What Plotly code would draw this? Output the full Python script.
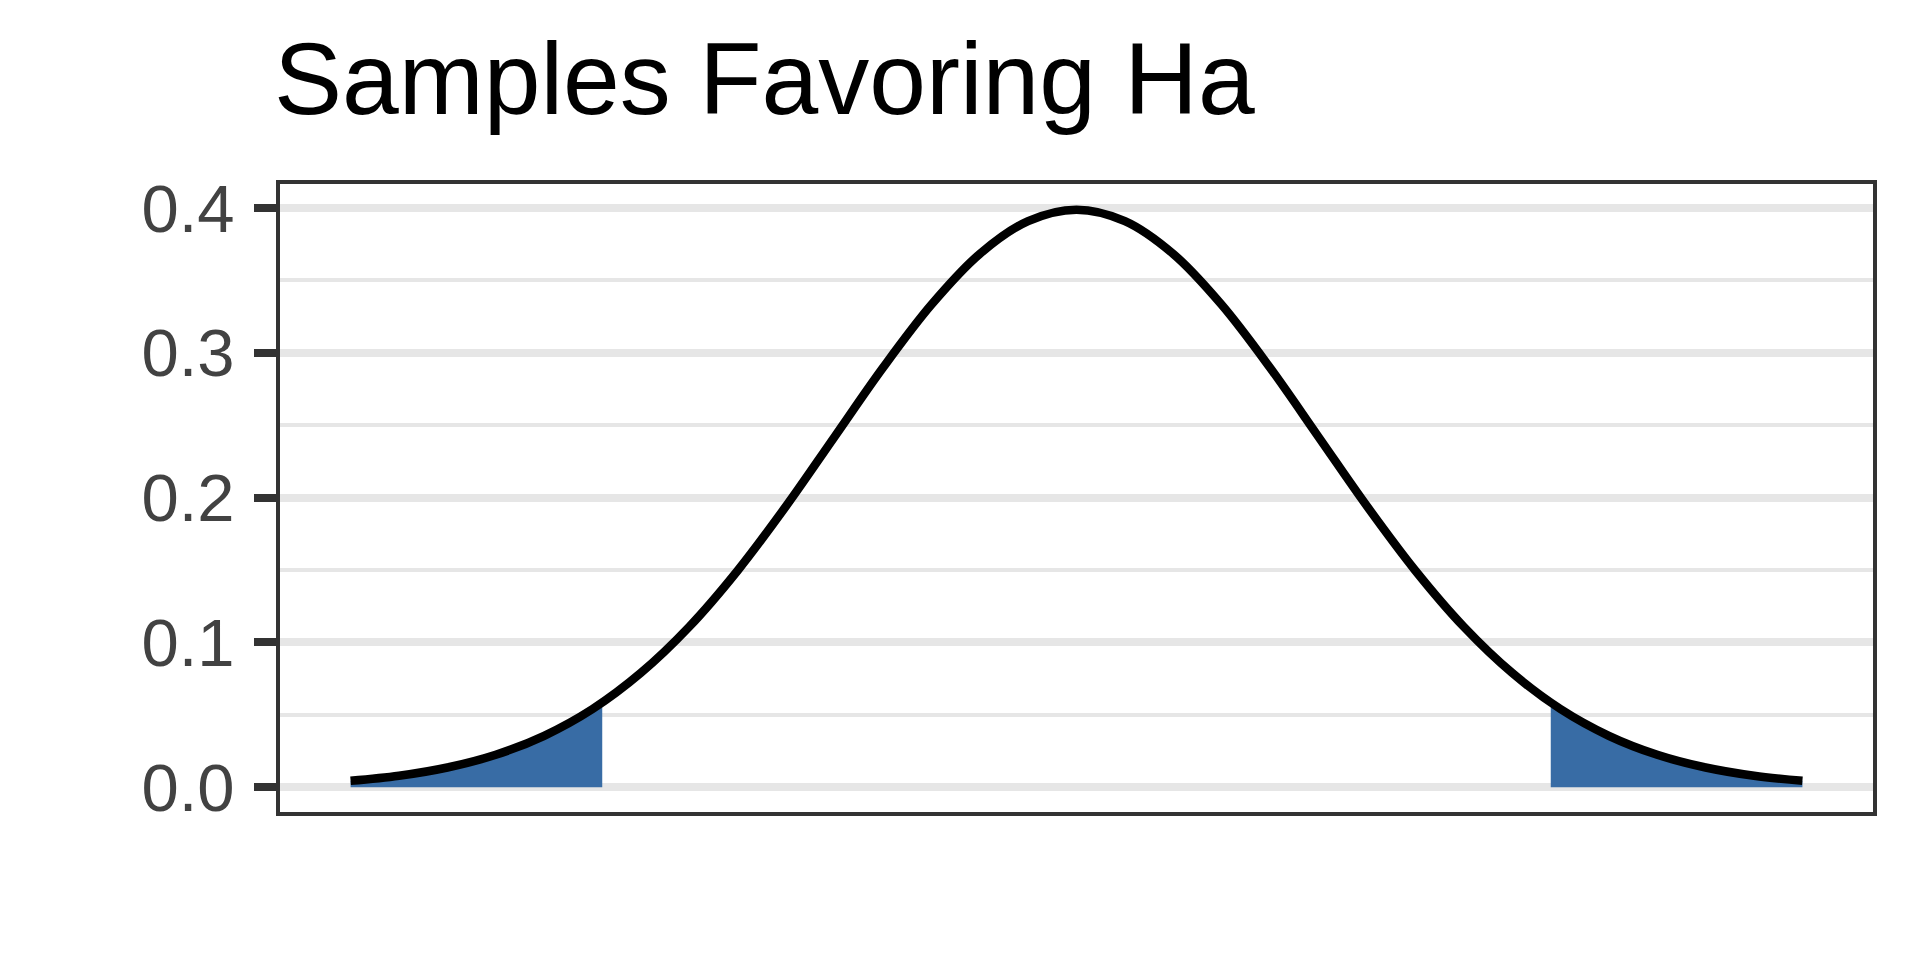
import plotly.graph_objects as go

# Density curve values
x_vals = [-3.0, -2.8, -2.6, -2.4, -2.2, -2.0, -1.8, -1.6, -1.4, -1.2, -1.0,
          -0.8, -0.6, -0.4, -0.2, 0.0, 0.2, 0.4, 0.6, 0.8, 1.0,
          1.2, 1.4, 1.6, 1.8, 2.0, 2.2, 2.4, 2.6, 2.8, 3.0]
density = [0.0044, 0.0079, 0.0136, 0.0224, 0.0355, 0.0540, 0.0790, 0.1109, 0.1497, 0.1942, 0.2420,
           0.2897, 0.3332, 0.3683, 0.3910, 0.3989, 0.3910, 0.3683, 0.3332, 0.2897, 0.2420,
           0.1942, 0.1497, 0.1109, 0.0790, 0.0540, 0.0355, 0.0224, 0.0136, 0.0079, 0.0044]

# Shaded tails
left_x = [-3.0, -2.8, -2.6, -2.4, -2.2, -2.0, -1.96]
left_y = [0.0044, 0.0079, 0.0136, 0.0224, 0.0355, 0.0540, 0.0584]
right_x = [1.96, 2.0, 2.2, 2.4, 2.6, 2.8, 3.0]
right_y = [0.0584, 0.0540, 0.0355, 0.0224, 0.0136, 0.0079, 0.0044]

y_ticks = [0.0, 0.1, 0.2, 0.3, 0.4]
y_ticklabels = ["0.0", "0.1", "0.2", "0.3", "0.4"]
y_minor = [0.05, 0.15, 0.25, 0.35]

title_text = "Samples Favoring Ha"

FILL = "#386CA5"
GRID = "#E6E6E6"
DARK = "#333333"
FONT = "Liberation Sans, Arial, sans-serif"

fig = go.Figure()
for tx, ty in [(left_x, left_y), (right_x, right_y)]:
    fig.add_trace(go.Scatter(x=tx, y=ty, mode="lines", fill="tozeroy",
                             fillcolor=FILL, line=dict(width=0, color=FILL, shape="spline"),
                             hoverinfo="skip", showlegend=False))
fig.add_trace(go.Scatter(x=x_vals, y=density, mode="lines",
                         line=dict(color="black", width=8.5, shape="spline"),
                         showlegend=False))

fig.update_layout(
    width=1920, height=960,
    paper_bgcolor="white", plot_bgcolor="white",
    margin=dict(l=270, r=53, t=174, b=154),
    title=dict(text=title_text, font=dict(family=FONT, size=102, color="black"),
               x=266/1920, xref="container", xanchor="left",
               y=1 - 106/960, yref="container", yanchor="bottom"),
    xaxis=dict(range=[-3.3, 3.3], showgrid=False, showticklabels=False,
               zeroline=False, ticks="", showline=False),
    yaxis=dict(range=[-0.0185, 0.418], tickvals=y_ticks, ticktext=y_ticklabels,
               showgrid=True, gridcolor=GRID, gridwidth=7.5,
               minor=dict(tickvals=y_minor, showgrid=True, gridcolor=GRID, gridwidth=3.8),
               ticks="outside", ticklen=23, tickwidth=8, tickcolor=DARK,
               ticklabelstandoff=6,
               tickfont=dict(family=FONT, size=67, color="#424242"),
               zeroline=False, showline=False),
    shapes=[dict(type="rect", xref="paper", yref="paper", x0=0, x1=1, y0=0, y1=1,
                 line=dict(color=DARK, width=4), layer="above")],
)

fig.write_html("out.html")
